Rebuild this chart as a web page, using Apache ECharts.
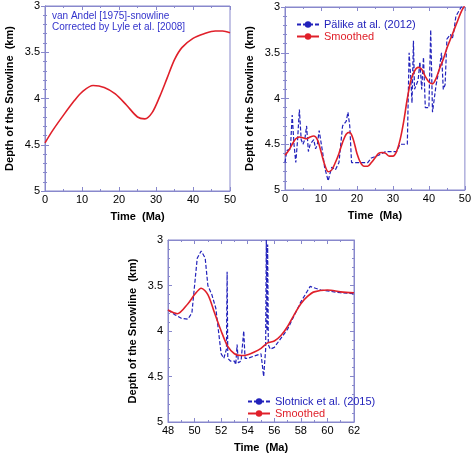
<!DOCTYPE html>
<html>
<head>
<meta charset="utf-8">
<title>Snowline</title>
<script src="https://cdn.jsdelivr.net/npm/echarts@6/dist/echarts.min.js"></script>
</head>
<body style="margin:0;background:#fff">
<div id="main" style="width:474px;height:454px;"></div>
<script type="text/javascript">
// panel A: van Andel snowline (time Ma, depth km)
var andelT = [0, 2, 5, 8, 10, 13, 16, 19, 22, 25, 27, 29, 31, 33, 35, 37, 40, 43, 46, 48, 50];
var andelD = [4.48, 4.35, 4.18, 4.02, 3.93, 3.86, 3.88, 3.95, 4.07, 4.2, 4.22, 4.15, 3.98, 3.78, 3.58, 3.45, 3.35, 3.3, 3.27, 3.27, 3.29];

// panel B: Palike et al. (2012) and smoothed
var palikeT = [0, 0.5, 1.5, 2, 2.5, 3, 3.5, 4, 4.5, 5, 5.5, 6, 6.5, 7, 8, 8.5, 9, 9.5, 10, 10.5, 11, 12, 12.5, 13, 14, 15, 16, 17, 17.5, 18, 18.5, 20, 22, 23, 24, 26, 28, 30, 31, 32, 33, 34, 34.5, 35, 35.3, 35.7, 36, 37, 37.5, 38, 38.5, 39, 40, 40.5, 41, 41.5, 42, 43, 43.5, 44, 44.5, 45, 46, 46.5, 47, 47.5, 48, 49, 50];
var palikeD = [4.7, 4.57, 4.55, 4.18, 4.5, 4.7, 4.45, 4.12, 4.45, 4.5, 4.45, 4.3, 4.58, 4.5, 4.45, 4.55, 4.5, 4.35, 4.36, 4.6, 4.75, 4.9, 4.82, 4.75, 4.78, 4.7, 4.3, 4.25, 4.15, 4.3, 4.7, 4.7, 4.7, 4.7, 4.65, 4.62, 4.58, 4.58, 4.58, 4.5, 4.5, 4.5, 3.5, 3.8, 4.05, 3.37, 3.9, 3.8, 3.6, 3.9, 3.55, 4.1, 4.1, 3.25, 4.15, 4.0, 3.85, 3.65, 3.5, 3.9, 3.85, 3.35, 3.3, 3.35, 3.25, 3.1, 3.1, 3.0, 2.95];
var smoothBT = [0, 1, 2, 3, 4, 5, 6, 7, 8, 9, 10, 11, 12, 13, 14, 15, 16, 17, 18, 19, 20, 21, 22, 23, 24, 25, 26, 27, 28, 29, 30, 31, 32, 33, 34, 35, 36, 37, 38, 39, 40, 41, 42, 43, 44, 45, 46, 47, 48, 49, 50];
var smoothBD = [4.62, 4.57, 4.5, 4.44, 4.42, 4.43, 4.44, 4.42, 4.41, 4.45, 4.58, 4.72, 4.8, 4.78, 4.7, 4.6, 4.48, 4.39, 4.37, 4.45, 4.6, 4.7, 4.74, 4.74, 4.7, 4.65, 4.6, 4.59, 4.6, 4.63, 4.63, 4.58, 4.45, 4.25, 4.0, 3.8, 3.7, 3.66, 3.68, 3.76, 3.82, 3.84, 3.78, 3.67, 3.57, 3.45, 3.35, 3.25, 3.15, 3.05, 2.98];

// panel C: Slotnick et al. (2015) and smoothed
var slotT = [48, 48.5, 49, 49.5, 49.8, 50, 50.2, 50.5, 50.8, 51, 51.3, 51.6, 52, 52.2, 52.4, 52.45, 52.5, 52.7, 53, 53.1, 53.2, 53.3, 53.5, 53.6, 53.7, 53.8, 54, 55, 55.2, 55.35, 55.4, 55.45, 55.5, 55.55, 55.7, 56, 57, 58, 58.7, 59.5, 60, 61, 62];
var slotD = [3.77, 3.82, 3.86, 3.87, 3.8, 3.5, 3.2, 3.12, 3.2, 3.5, 3.6, 3.75, 4.25, 4.3, 4.2, 3.35, 4.3, 4.33, 4.33, 4.37, 4.15, 4.35, 4.33, 4.35, 4.0, 4.3, 4.3, 4.25, 4.5, 4.2, 3.0, 4.0, 3.05, 4.15, 4.2, 4.18, 3.98, 3.68, 3.51, 3.55, 3.56, 3.58, 3.59];
var smoothCT = [48, 48.7, 49.5, 50, 50.5, 51, 51.5, 52, 52.5, 53, 53.5, 54, 54.5, 55, 55.5, 56, 56.5, 57, 57.5, 58, 58.5, 59, 60, 61, 62];
var smoothCD = [3.77, 3.81, 3.7, 3.6, 3.53, 3.6, 3.8, 4.0, 4.17, 4.25, 4.27, 4.26, 4.23, 4.19, 4.13, 4.11, 4.05, 3.95, 3.82, 3.7, 3.62, 3.57, 3.55, 3.57, 3.58];

function zip(a, b) { return a.map(function (v, i) { return [v, b[i]]; }); }

var frame = '#8888cc';
var blue = '#2222bb', red = '#e0202a';
var grids = [
  { left: 45, top: 6, width: 185, height: 185 },
  { left: 285, top: 7, width: 182, height: 183 },
  { left: 168, top: 240, width: 186, height: 187 }
];
var xr = [[0, 50, 10], [0, 50, 10], [48, 62, 2]];

var xAxes = [], yAxes = [];
grids.forEach(function (g, i) {
  g.show = true; g.borderColor = frame; g.borderWidth = 1;
  var base = {
    gridIndex: i, type: 'value', min: xr[i][0], max: xr[i][1], interval: xr[i][2],
    axisLine: { lineStyle: { color: frame } },
    axisTick: { inside: true, length: 4, lineStyle: { color: frame } },
    minorTick: { show: true, splitNumber: 2, length: 2, lineStyle: { color: frame } },
    splitLine: { show: false }
  };
  xAxes.push(Object.assign({}, base, {
    position: 'bottom', name: 'Time  (Ma)', nameLocation: 'middle', nameGap: 20,
    nameTextStyle: { fontWeight: 'bold', fontSize: 11, color: '#000', fontFamily: 'Liberation Sans' },
    axisLabel: { color: '#000', fontSize: 11, margin: 3, fontFamily: 'Liberation Sans' }
  }));
  xAxes.push(Object.assign({}, base, { position: 'top', axisLabel: { show: false } }));
  var ybase = {
    gridIndex: i, type: 'value', inverse: true, min: 3, max: 5, interval: 0.5,
    axisLine: { lineStyle: { color: frame } },
    axisTick: { inside: true, length: 4, lineStyle: { color: frame } },
    minorTick: { show: true, splitNumber: 5, length: 2, lineStyle: { color: frame } },
    splitLine: { show: false }
  };
  yAxes.push(Object.assign({}, ybase, {
    position: 'left', name: 'Depth of the Snowline  (km)', nameLocation: 'middle', nameGap: 30,
    nameTextStyle: { fontWeight: 'bold', fontSize: 11, color: '#000', fontFamily: 'Liberation Sans' },
    axisLabel: { color: '#000', fontSize: 11, margin: 5, fontFamily: 'Liberation Sans' }
  }));
  yAxes.push(Object.assign({}, ybase, { position: 'right', axisLabel: { show: false } }));
});

function line(name, data, gi, color, dashed) {
  return {
    name: name, type: 'line', xAxisIndex: gi * 2, yAxisIndex: gi * 2,
    data: data, symbol: 'none', smooth: dashed ? false : 0.3, clip: true,
    lineStyle: { color: color, width: dashed ? 1.2 : 1.6, type: dashed ? [4, 2] : 'solid' },
    itemStyle: { color: color }
  };
}

function legendAt(first, left, top) {
  return {
    data: [
      { name: first, textStyle: { color: blue } },
      { name: 'Smoothed', textStyle: { color: red } }
    ],
    left: left, top: top, orient: 'vertical',
    itemWidth: 22, itemHeight: 8, itemGap: 1, padding: 0,
    textStyle: { fontSize: 11, fontFamily: 'Liberation Sans' }
  };
}

var myChart = echarts.init(document.getElementById('main'));
var option = {
  animation: false,
  grid: grids,
  xAxis: xAxes,
  yAxis: yAxes,
  legend: [
    legendAt('Pälike at al. (2012)', 296, 19),
    legendAt('Slotnick et al. (2015)', 247, 396)
  ],
  graphic: [
    { type: 'text', left: 52, top: 11,
      style: { text: 'van Andel [1975]-snowline\nCorrected by Lyle et al. [2008]', fill: '#3333cc',
        font: '10px Liberation Sans', lineHeight: 11 } }
  ],
  series: [
    line('van Andel', zip(andelT, andelD), 0, red, false),
    line('Pälike at al. (2012)', zip(palikeT, palikeD), 1, blue, true),
    line('Smoothed', zip(smoothBT, smoothBD), 1, red, false),
    line('Slotnick et al. (2015)', zip(slotT, slotD), 2, blue, true),
    line('Smoothed', zip(smoothCT, smoothCD), 2, red, false)
  ]
};
myChart.setOption(option);
</script>
</body>
</html>
